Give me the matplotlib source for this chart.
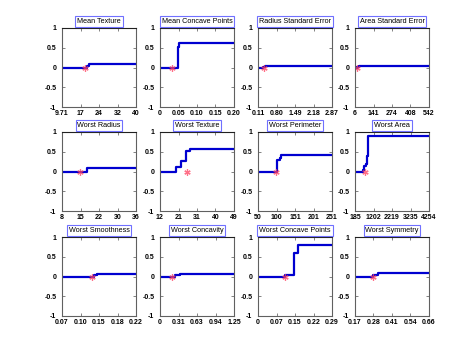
import numpy as np
import matplotlib
matplotlib.use('Agg')
import matplotlib.pyplot as plt

plt.rcParams['font.family'] = ['Liberation Sans', 'DejaVu Sans']

# --- Data
titles = ['Mean Texture', 'Mean Concave Points', 'Radius Standard Error', 'Area Standard Error',
          'Worst Radius', 'Worst Texture', 'Worst Perimeter', 'Worst Area',
          'Worst Smoothness', 'Worst Concavity', 'Worst Concave Points', 'Worst Symmetry']
x_min = [9.71, 0.0, 0.1115, 6.8, 7.93, 12.02, 50.41, 185.2, 0.0712, 0.0, 0.0, 0.1565]
x_max = [39.28, 0.2012, 2.873, 542.2, 36.04, 49.54, 251.2, 4254.0, 0.2226, 1.252, 0.291, 0.6638]
tick_labels = [['9.71', '17', '24', '32', '40'],
               ['0', '0.05', '0.10', '0.15', '0.20'],
               ['0.11', '0.80', '1.49', '2.18', '2.87'],
               ['6', '141', '274', '408', '542'],
               ['8', '15', '22', '30', '36'],
               ['12', '21', '31', '40', '49'],
               ['50', '100', '151', '201', '251'],
               ['185', '1202', '2219', '3235', '4254'],
               ['0.07', '0.10', '0.15', '0.18', '0.22'],
               ['0', '0.31', '0.63', '0.94', '1.25'],
               ['0', '0.07', '0.15', '0.22', '0.29'],
               ['0.17', '0.28', '0.41', '0.54', '0.66']]
# step positions and the level reached at each step
step_x = [[19.8, 20.4],
          [0.049, 0.051, 0.053],
          [0.30, 0.38],
          [22, 33],
          [17.5],
          [20.2, 22.6, 25.3, 27.4],
          [103, 109, 114],
          [600, 700, 790, 850, 900],
          [0.137, 0.142],
          [0.25, 0.34],
          [0.107, 0.140, 0.142, 0.156],
          [0.283, 0.317]]
step_y = [[0.03, 0.08],
          [0.52, 0.57, 0.61],
          [0.02, 0.03],
          [0.02, 0.04],
          [0.10],
          [0.12, 0.27, 0.51, 0.56],
          [0.30, 0.33, 0.42],
          [0.05, 0.15, 0.20, 0.40, 0.90],
          [0.03, 0.06],
          [0.03, 0.06],
          [0.03, 0.30, 0.60, 0.80],
          [0.03, 0.08]]
star_x = [18.9, 0.033, 0.32, 20, 14.8, 25.7, 100, 720, 0.132, 0.21, 0.105, 0.278]
star_y = [0, 0, 0, 0, 0, 0, 0, 0, 0, 0, 0, 0]

yticks = [-1, -0.5, 0, 0.5, 1]
ytick_labels = ['-1', '-0.5', '0', '0.5', '1']

W, H = 474, 355
fig = plt.figure(figsize=(W/100, H/100), dpi=100)
lefts = [62, 160, 258, 355]
tops = [28, 132, 237]
aw, ah = 74, 79

for i, title in enumerate(titles):
    r, c = divmod(i, 4)
    ax = fig.add_axes([lefts[c]/W, 1-(tops[r]+ah)/H, aw/W, ah/H])
    xs = [x_min[i]] + step_x[i] + [x_max[i]]
    ys = [0] + step_y[i] + [step_y[i][-1]]
    ax.step(xs, ys, where='post', color='#0000d0', lw=1.6)
    # MATLAB-like asterisk marker
    ax.plot(star_x[i], star_y[i], marker=(6, 2, 0), color='#ff4060', ms=4.5,
            mew=0.9, alpha=0.75, linestyle='none')
    ax.set_xlim(x_min[i], x_max[i])
    ax.set_ylim(-1, 1)
    ax.set_xticks(np.linspace(x_min[i], x_max[i], 5))
    ax.set_xticklabels(tick_labels[i])
    ax.set_yticks(yticks)
    ax.set_yticklabels(ytick_labels)
    ax.tick_params(direction='in', length=2, width=0.5, labelsize=5,
                   top=True, right=True, color='#505050')
    ax.tick_params(axis='x', pad=2)
    ax.tick_params(axis='y', pad=4)
    for lab in ax.get_xticklabels() + ax.get_yticklabels():
        lab.set_fontweight('bold')
    for s in ax.spines.values():
        s.set_color('#606060')
        s.set_linewidth(0.8)
    ax.spines['top'].set_color('#202020')
    ax.set_title(title, fontsize=5.2, pad=3.5,
                 bbox=dict(boxstyle='square,pad=0.25', fc='white', ec='#7070ff', lw=0.8))

fig.savefig('out.png', dpi=100)
